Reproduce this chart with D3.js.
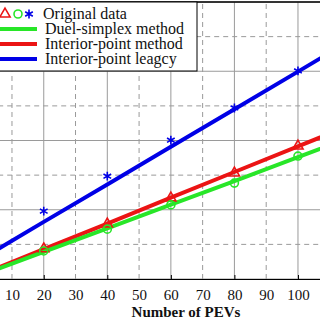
<!DOCTYPE html>
<html>
<head>
<meta charset="utf-8">
<script src="https://cdn.jsdelivr.net/npm/d3@7"></script>
<style>
  body { margin: 0; background: #fff; }
  svg { display: block; }
  svg text { font-family: "Liberation Serif", "DejaVu Serif", serif; }
</style>
</head>
<body>
<div id="chart"></div>
<script>
// data
var pevs = [20, 40, 60, 80, 100];
var lineX = [0, 20, 40, 60, 80, 100, 120];

var origDual = [0.81, 1.44, 2.14, 2.77, 3.55];
var origInterior = [0.87, 1.59, 2.34, 3.06, 3.84];
var origLegacy = [1.96, 2.97, 4.01, 4.94, 6.01];

var dualSimplex = [0.10, 0.78, 1.46, 2.15, 2.83, 3.52, 4.20];
var interiorPoint = [0.12, 0.86, 1.60, 2.35, 3.09, 3.83, 4.57];
var interiorLegacy = [0.56, 1.65, 2.73, 3.82, 4.90, 5.99, 7.08];

var xTicks = [0, 10, 20, 30, 40, 50, 60, 70, 80, 90, 100, 110, 120];
var xLabels = [10, 20, 30, 40, 50, 60, 70, 80, 90, 100];
var yTicks = [0, 1, 2, 3, 4, 5, 6, 7, 8];

var legendLabels = ["Original data", "Duel-simplex method", "Interior-point method", "Interior-point leagcy"];

var blue = "rgb(0,0,230)", red = "rgb(235,20,20)", green = "rgb(40,230,40)";
var serif = "'Liberation Serif', 'DejaVu Serif', serif";

var W = 320, H = 320;
var svg = d3.select("#chart").append("svg")
  .attr("width", W).attr("height", H);

// plot area partly off the canvas (cropped figure)
var x = d3.scaleLinear().domain([0, 130]).range([-19.8, 393.3]);
var y = d3.scaleLinear().domain([0, 8]).range([279, 2]);

// grid
var grid = svg.append("g");
grid.selectAll("line.vg")
  .data(xTicks)
  .enter().append("line")
  .attr("x1", function(d) { return x(d); })
  .attr("x2", function(d) { return x(d); })
  .attr("y1", y(0)).attr("y2", y(8))
  .attr("stroke", "#9a9a9a")
  .attr("stroke-width", 1)
  .attr("stroke-dasharray", function(d) { return d % 20 === 0 ? null : "5,4"; });
grid.selectAll("line.hg")
  .data(yTicks)
  .enter().append("line")
  .attr("x1", x(0)).attr("x2", x(130))
  .attr("y1", function(d) { return y(d); })
  .attr("y2", function(d) { return y(d); })
  .attr("stroke", "#9a9a9a")
  .attr("stroke-width", 1)
  .attr("stroke-dasharray", function(d) { return d % 2 === 0 ? null : "5,4"; });

// axes
svg.append("g")
  .attr("transform", "translate(0," + y(0) + ")")
  .call(d3.axisBottom(x).tickValues(xTicks.filter(function(d) { return d % 20 === 0; })).tickSize(-4).tickFormat(""))
  .call(function(g) { g.select(".domain").attr("stroke", "#000"); });
svg.append("g")
  .attr("transform", "translate(0," + y(0) + ")")
  .call(d3.axisBottom(x).tickValues(xLabels).tickSize(0).tickPadding(10))
  .call(function(g) {
    g.attr("font-family", null);
    g.select(".domain").remove();
    g.selectAll("text").style("font-family", serif)
      .attr("font-size", "15px").attr("fill", "#111");
  });
svg.append("line")
  .attr("x1", x(0)).attr("x2", x(130))
  .attr("y1", y(8)).attr("y2", y(8))
  .attr("stroke", "#000").attr("stroke-width", 1.5);

svg.append("text")
  .attr("x", 186).attr("y", 317)
  .attr("text-anchor", "middle")
  .style("font-family", serif)
  .attr("font-weight", "bold")
  .attr("font-size", "15px")
  .attr("fill", "#111")
  .text("Number of PEVs");

// lines
var plot = svg.append("g");
function drawLine(vals, color) {
  var line = d3.line()
    .x(function(d, i) { return x(lineX[i]); })
    .y(function(d) { return y(d); });
  plot.append("path")
    .datum(vals)
    .attr("d", line)
    .attr("fill", "none")
    .attr("stroke", color)
    .attr("stroke-width", 4);
}
drawLine(interiorLegacy, blue);
drawLine(interiorPoint, red);
drawLine(dualSimplex, green);

// markers
function drawMarkers(vals, type, size, color) {
  plot.selectAll(null)
    .data(vals)
    .enter().append("path")
    .attr("transform", function(d, i) { return "translate(" + x(pevs[i]) + "," + y(d) + ")"; })
    .attr("d", d3.symbol().type(type).size(size))
    .attr("fill", "none")
    .attr("stroke", color)
    .attr("stroke-width", 1.6);
}
drawMarkers(origInterior, d3.symbolTriangle, 45, red);
drawMarkers(origDual, d3.symbolCircle, 50, green);
drawMarkers(origLegacy, d3.symbolAsterisk, 55, blue);

// legend
var legend = svg.append("g");
legend.append("rect")
  .attr("x", -10).attr("y", 2)
  .attr("width", 207).attr("height", 69)
  .attr("fill", "#fff")
  .attr("stroke", "#000")
  .attr("stroke-width", 1);

legend.append("path")
  .attr("transform", "translate(5,14)")
  .attr("d", d3.symbol().type(d3.symbolTriangle).size(45))
  .attr("fill", "none").attr("stroke", red).attr("stroke-width", 1.6);
legend.append("path")
  .attr("transform", "translate(18,14)")
  .attr("d", d3.symbol().type(d3.symbolCircle).size(50))
  .attr("fill", "none").attr("stroke", green).attr("stroke-width", 1.6);
legend.append("path")
  .attr("transform", "translate(29,14)")
  .attr("d", d3.symbol().type(d3.symbolAsterisk).size(55))
  .attr("fill", "none").attr("stroke", blue).attr("stroke-width", 1.6);

var legendColors = [null, green, red, blue];
var rowY = [14, 29, 44, 59];
legendLabels.forEach(function(lbl, i) {
  if (legendColors[i]) {
    legend.append("line")
      .attr("x1", -8).attr("x2", 37)
      .attr("y1", rowY[i]).attr("y2", rowY[i])
      .attr("stroke", legendColors[i]).attr("stroke-width", 4);
  }
  legend.append("text")
    .attr("x", i === 0 ? 43 : 45)
    .attr("y", rowY[i] + 5)
    .style("font-family", serif)
    .attr("font-size", "16px")
    .attr("fill", "#111")
    .text(lbl);
});
</script>
</body>
</html>
